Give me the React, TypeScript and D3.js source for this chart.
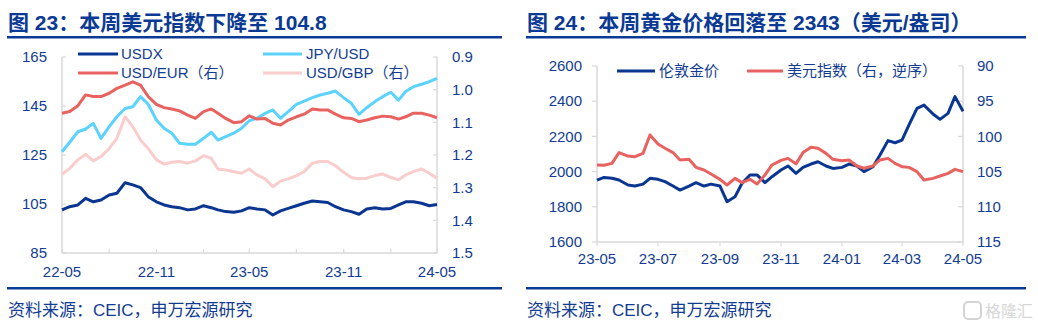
import React, { useEffect } from 'react';
import * as d3 from 'd3';

// ---------- Left chart data (图 23) ----------
const leftDates = [
  '2022-05-01','2022-05-16','2022-06-01','2022-06-16','2022-07-01','2022-07-16','2022-08-01','2022-08-16',
  '2022-09-01','2022-09-16','2022-10-01','2022-10-16','2022-11-01','2022-11-16','2022-12-01','2022-12-16',
  '2023-01-01','2023-01-16','2023-02-01','2023-02-16','2023-03-01','2023-03-16','2023-04-01','2023-04-16',
  '2023-05-01','2023-05-16','2023-06-01','2023-06-16','2023-07-01','2023-07-16','2023-08-01','2023-08-16',
  '2023-09-01','2023-09-16','2023-10-01','2023-10-16','2023-11-01','2023-11-16','2023-12-01','2023-12-16',
  '2024-01-01','2024-01-16','2024-02-01','2024-02-16','2024-03-01','2024-03-16','2024-04-01','2024-04-16',
  '2024-05-01',
];
const usdx = [
  102.6,103.9,104.6,107.3,105.9,106.6,108.7,109.4,113.7,112.8,111.7,108.0,105.9,104.6,103.9,103.5,
  102.6,103.0,104.3,103.5,102.6,101.9,101.6,102.2,103.5,103.0,102.6,100.5,102.2,103.2,104.3,105.3,
  106.2,105.9,105.6,103.9,102.6,101.9,100.8,103.0,103.5,103.0,103.2,104.6,105.9,105.9,105.3,104.3,
  104.8,
];
const jpyusd = [
  126.3,130.2,134.5,135.6,137.9,131.8,136.6,140.6,144.0,144.7,148.8,145.7,139.3,135.9,133.9,129.8,
  129.4,129.4,131.8,134.3,131.1,132.5,133.9,135.9,139.0,140.0,142.0,143.4,140.0,142.7,145.7,147.0,
  148.4,149.5,150.2,151.1,148.4,146.1,141.6,144.3,146.8,148.8,150.6,147.4,150.9,152.9,153.9,154.9,
  156.3,
];
const usdeur = [
  1.072,1.067,1.049,1.016,1.021,1.021,1.011,0.996,0.986,0.976,0.986,1.021,1.045,1.055,1.059,1.065,
  1.078,1.088,1.067,1.059,1.072,1.088,1.101,1.098,1.080,1.090,1.088,1.103,1.108,1.093,1.083,1.075,
  1.059,1.062,1.062,1.075,1.086,1.088,1.098,1.093,1.086,1.081,1.083,1.090,1.083,1.072,1.072,1.078,
  1.086,
];
const usdgbp = [
  1.259,1.241,1.215,1.198,1.218,1.205,1.180,1.149,1.083,1.113,1.154,1.180,1.215,1.228,1.222,1.220,
  1.225,1.218,1.202,1.210,1.243,1.246,1.251,1.256,1.243,1.261,1.273,1.297,1.280,1.273,1.263,1.251,
  1.225,1.220,1.220,1.233,1.253,1.269,1.273,1.271,1.263,1.258,1.269,1.276,1.261,1.251,1.243,1.256,
  1.271,
];
const leftYTicks = [85, 105, 125, 145, 165];
const leftY2Ticks = [0.9, 1.0, 1.1, 1.2, 1.3, 1.4, 1.5];
const leftXTicks = ['2022-05-01','2022-08-01','2022-11-01','2023-02-01','2023-05-01','2023-08-01','2023-11-01','2024-02-01','2024-05-01'];
const leftXLabels = ['22-05', '', '22-11', '', '23-05', '', '23-11', '', '24-05'];

// ---------- Right chart data (图 24) ----------
const rightDates = [
  '2023-05-01','2023-05-08','2023-05-16','2023-05-23','2023-06-01','2023-06-08','2023-06-16','2023-06-23',
  '2023-07-01','2023-07-08','2023-07-16','2023-07-23','2023-08-01','2023-08-08','2023-08-16','2023-08-23',
  '2023-09-01','2023-09-08','2023-09-16','2023-09-23','2023-10-01','2023-10-08','2023-10-16','2023-10-23',
  '2023-11-01','2023-11-08','2023-11-16','2023-11-23','2023-12-01','2023-12-08','2023-12-16','2023-12-23',
  '2024-01-01','2024-01-08','2024-01-16','2024-01-23','2024-02-01','2024-02-08','2024-02-16','2024-02-23',
  '2024-03-01','2024-03-08','2024-03-16','2024-03-23','2024-04-01','2024-04-08','2024-04-16','2024-04-23',
  '2024-05-01',
];
const goldLondon = [
  1952,1967,1962,1952,1924,1918,1929,1962,1956,1943,1918,1895,1918,1937,1918,1929,
  1918,1829,1857,1933,1981,1981,1937,1971,2009,2032,1990,2024,2043,2056,2032,2018,
  2024,2043,2032,2000,2028,2094,2176,2164,2179,2265,2359,2378,2327,2297,2331,2426,
  2343,
];
const dollarIndex = [
  104.06,104.1,103.83,102.3,102.8,102.88,102.41,99.8,101.08,101.69,102.3,103.35,103.26,104.39,104.77,105.34,
  106.1,106.9,105.96,106.57,106.1,106.76,105.48,104.06,103.4,103.12,103.9,102.3,101.55,101.69,102.41,103.26,
  103.45,103.35,104.2,104.53,104.2,103.35,103.12,103.83,104.3,104.4,105.01,106.19,105.96,105.62,105.25,104.68,
  105.01,
];
const rightYTicks = [1600, 1800, 2000, 2200, 2400, 2600];
const rightY2Ticks = [90, 95, 100, 105, 110, 115];
const rightXTicks = ['2023-05-01','2023-07-01','2023-09-01','2023-11-01','2024-01-01','2024-03-01','2024-05-01'];
const rightXLabels = ['23-05','23-07','23-09','23-11','24-01','24-03','24-05'];

const FONT = '"Liberation Sans", Arial, "Noto Sans CJK SC", sans-serif';
const BLUE = '#0B3A94';
const TXT = '#123C92';
const AXIS = '#D9D9D9';
const C_USDX = '#0A3591';
const C_JPY = '#5CD3FF';
const C_EUR = '#E8625F';
const C_GBP = '#F9CDCC';
const C_GOLD = '#0A3591';
const C_DXY = '#E8625F';

const pd = d3.timeParse('%Y-%m-%d');

function LeftChart() {
  const x = d3.scaleTime().domain([pd('2022-05-01')!, pd('2024-05-01')!]).range([62, 437]);
  const y = d3.scaleLinear().domain([85, 165]).range([253, 57]);
  const y2 = d3.scaleLinear().domain([0.9, 1.5]).range([57, 253]);
  const dates = leftDates.map((d) => pd(d)!);
  const mk = (vals: number[], sc: d3.ScaleLinear<number, number>) =>
    d3.line<number>().x((_, i) => x(dates[i])).y((v) => sc(v)).curve(d3.curveLinear)(vals) || '';
  return (
    <g>
      {/* axes */}
      <line x1={62} x2={62} y1={57} y2={253} stroke={AXIS} strokeWidth={1.5} />
      <line x1={437} x2={437} y1={57} y2={253} stroke={AXIS} strokeWidth={1.5} />
      <line x1={62} x2={437} y1={253} y2={253} stroke={AXIS} strokeWidth={1.5} />
      {leftYTicks.map((t) => (
        <g key={'ly' + t}>
          <line x1={62} x2={66} y1={y(t)} y2={y(t)} stroke={AXIS} strokeWidth={1.2} />
          <text x={47} y={y(t)} dy="0.35em" textAnchor="end" fontSize={15} fill={TXT} fontFamily={FONT}>{t}</text>
        </g>
      ))}
      {leftY2Ticks.map((t) => (
        <g key={'ly2' + t}>
          <line x1={433} x2={437} y1={y2(t)} y2={y2(t)} stroke={AXIS} strokeWidth={1.2} />
          <text x={452} y={y2(t)} dy="0.35em" textAnchor="start" fontSize={15} fill={TXT} fontFamily={FONT}>{t.toFixed(1)}</text>
        </g>
      ))}
      {leftXTicks.map((t, i) => {
        const xx = x(pd(t)!);
        return (
          <g key={'lx' + t}>
            <line x1={xx} x2={xx} y1={249} y2={253} stroke={AXIS} strokeWidth={1.2} />
            {leftXLabels[i] && (
              <text x={xx} y={277} textAnchor="middle" fontSize={15} fill={TXT} fontFamily={FONT}>{leftXLabels[i]}</text>
            )}
          </g>
        );
      })}
      {/* series */}
      <path d={mk(jpyusd, y)} fill="none" stroke={C_JPY} strokeWidth={3} strokeLinejoin="round" />
      <path d={mk(usdx, y)} fill="none" stroke={C_USDX} strokeWidth={3} strokeLinejoin="round" />
      <path d={mk(usdgbp, y2)} fill="none" stroke={C_GBP} strokeWidth={3} strokeLinejoin="round" />
      <path d={mk(usdeur, y2)} fill="none" stroke={C_EUR} strokeWidth={3} strokeLinejoin="round" />
      {/* legend */}
      <line x1={78} x2={118} y1={54} y2={54} stroke={C_USDX} strokeWidth={3} />
      <text x={121} y={58.5} fontSize={15} fill={TXT} fontFamily={FONT}>USDX</text>
      <line x1={78} x2={118} y1={73} y2={73} stroke={C_EUR} strokeWidth={3} />
      <text x={121} y={78} fontSize={15} fill={TXT} fontFamily={FONT}>USD/EUR（右）</text>
      <line x1={263} x2={302} y1={54} y2={54} stroke={C_JPY} strokeWidth={3} />
      <text x={306} y={58.5} fontSize={15} fill={TXT} fontFamily={FONT}>JPY/USD</text>
      <line x1={263} x2={302} y1={73} y2={73} stroke={C_GBP} strokeWidth={3} />
      <text x={306} y={78} fontSize={15} fill={TXT} fontFamily={FONT}>USD/GBP（右）</text>
    </g>
  );
}

function RightChart() {
  const x = d3.scaleTime().domain([pd('2023-05-01')!, pd('2024-05-01')!]).range([597, 963]);
  const y = d3.scaleLinear().domain([1600, 2600]).range([242, 66]);
  const y2 = d3.scaleLinear().domain([90, 115]).range([66, 242]);
  const dates = rightDates.map((d) => pd(d)!);
  const mk = (vals: number[], sc: d3.ScaleLinear<number, number>) =>
    d3.line<number>().x((_, i) => x(dates[i])).y((v) => sc(v))(vals) || '';
  return (
    <g>
      <line x1={597} x2={597} y1={66} y2={242} stroke={AXIS} strokeWidth={1.5} />
      <line x1={963} x2={963} y1={66} y2={242} stroke={AXIS} strokeWidth={1.5} />
      <line x1={597} x2={963} y1={242} y2={242} stroke={AXIS} strokeWidth={1.5} />
      {rightYTicks.map((t) => (
        <g key={'ry' + t}>
          <line x1={592} x2={597} y1={y(t)} y2={y(t)} stroke={AXIS} strokeWidth={1.2} />
          <text x={582} y={y(t)} dy="0.35em" textAnchor="end" fontSize={15} fill={TXT} fontFamily={FONT}>{t}</text>
        </g>
      ))}
      {rightY2Ticks.map((t) => (
        <g key={'ry2' + t}>
          <line x1={958} x2={963} y1={y2(t)} y2={y2(t)} stroke={AXIS} strokeWidth={1.2} />
          <text x={977} y={y2(t)} dy="0.35em" textAnchor="start" fontSize={15} fill={TXT} fontFamily={FONT}>{t}</text>
        </g>
      ))}
      {rightXTicks.map((t, i) => {
        const xx = x(pd(t)!);
        return (
          <g key={'rx' + t}>
            <line x1={xx} x2={xx} y1={242} y2={246} stroke={AXIS} strokeWidth={1.2} />
            <text x={xx} y={264} textAnchor="middle" fontSize={15} fill={TXT} fontFamily={FONT}>{rightXLabels[i]}</text>
          </g>
        );
      })}
      <path d={mk(goldLondon, y)} fill="none" stroke={C_GOLD} strokeWidth={3} strokeLinejoin="round" />
      <path d={mk(dollarIndex, y2)} fill="none" stroke={C_DXY} strokeWidth={3} strokeLinejoin="round" />
      {/* legend */}
      <line x1={617} x2={655} y1={71} y2={71} stroke={C_GOLD} strokeWidth={3} />
      <text x={659} y={76} fontSize={15} fill={TXT} fontFamily={FONT}>伦敦金价</text>
      <line x1={747} x2={783} y1={71} y2={71} stroke={C_DXY} strokeWidth={3} />
      <text x={787} y={76} fontSize={15} fill={TXT} fontFamily={FONT}>美元指数（右，逆序）</text>
    </g>
  );
}

export default function App() {
  useEffect(() => {
    document.body.style.margin = '0';
  }, []);
  return (
    <svg width={1038} height={329} style={{ position: 'absolute', left: 0, top: 0, background: '#fff' }}>
      <rect x={0} y={0} width={1038} height={329} fill="#fff" />
      {/* titles */}
      <text x={8} y={29.5} fontSize={21} fontWeight="bold" fill={BLUE} fontFamily={FONT}>图 23：本周美元指数下降至 104.8</text>
      <rect x={7} y={36} width={495} height={2.5} fill={BLUE} />
      <text x={527} y={29.5} fontSize={21} fontWeight="bold" fill={BLUE} fontFamily={FONT}>图 24：本周黄金价格回落至 2343（美元/盎司）</text>
      <rect x={526} y={36} width={500} height={2.5} fill={BLUE} />
      <LeftChart />
      <RightChart />
      {/* footers */}
      <rect x={7} y={287} width={495} height={2.5} fill={BLUE} />
      <rect x={526} y={287} width={500} height={2.5} fill={BLUE} />
      <text x={8} y={316} fontSize={17} fill={TXT} fontFamily={FONT}>资料来源：CEIC，申万宏源研究</text>
      <text x={527} y={316} fontSize={17} fill={TXT} fontFamily={FONT}>资料来源：CEIC，申万宏源研究</text>
      {/* watermark */}
      <rect x={964} y={302} width={17} height={17} rx={4} fill="none" stroke="#d4d4d4" strokeWidth={2} />
      <text x={985} y={317} fontSize={16} fill="#d6d6d6" fontFamily={FONT}>格隆汇</text>
    </svg>
  );
}
